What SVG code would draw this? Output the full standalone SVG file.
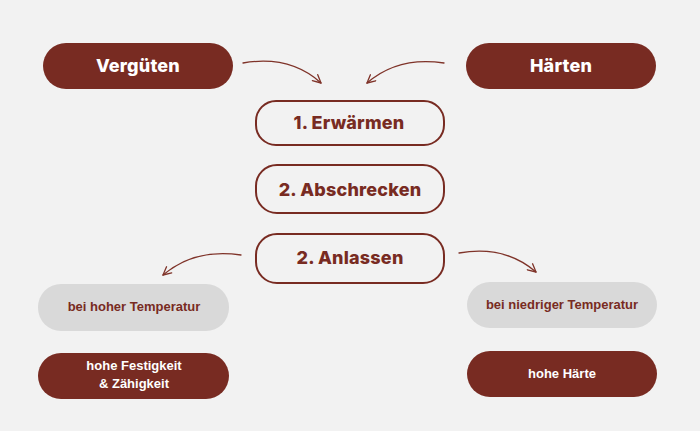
<svg xmlns="http://www.w3.org/2000/svg" width="700" height="431" viewBox="0 0 700 431">
<style>
.bg{fill:#f2f2f2}
.dark{fill:#782b22}
.outline{fill:none;stroke:#782b22;stroke-width:2}
.gray{fill:#d9d9d9}
.title{font-family:Inter,"Open Sans",sans-serif;font-weight:800;font-size:18px;letter-spacing:0.2px;text-anchor:middle}
.w{fill:#ffffff}
.r{fill:#782b22}
.small{font-family:"Liberation Sans",Arial,sans-serif;font-weight:700;font-size:13px;text-anchor:middle}
.conn{fill:none;stroke:#7f3329;stroke-width:1.3;stroke-linecap:round}
</style>
<defs>
<marker id="ah" viewBox="0 0 10 10" refX="9" refY="5" markerWidth="10" markerHeight="10" markerUnits="userSpaceOnUse" orient="auto">
<path d="M1,1 L9,5 L1,9" fill="none" stroke="#7f3329" stroke-width="1.3" stroke-linecap="round" stroke-linejoin="round"/>
</marker>
</defs>
<rect class="bg" x="0" y="0" width="700" height="431"/>
<g id="verguten">
<rect class="dark" x="43" y="43" width="190" height="46" rx="23"/>
<text class="title w" x="138" y="72">Vergüten</text>
</g>
<g id="harten">
<rect class="dark" x="466" y="43" width="190" height="46" rx="23"/>
<text class="title w" x="561" y="72">Härten</text>
</g>
<g id="erwarmen">
<rect class="outline" x="256" y="101" width="188" height="44" rx="20"/>
<text class="title r" x="349" y="129">1. Erwärmen</text>
</g>
<g id="abschrecken">
<rect class="outline" x="256" y="165" width="188" height="48" rx="21"/>
<text class="title r" x="350" y="196">2. Abschrecken</text>
</g>
<g id="anlassen">
<rect class="outline" x="256" y="234" width="188" height="49" rx="21"/>
<text class="title r" x="350" y="264">2. Anlassen</text>
</g>
<g id="hoheTemp">
<rect class="gray" x="38" y="284" width="191" height="47" rx="23"/>
<text class="small r" x="134" y="311">bei hoher Temperatur</text>
</g>
<g id="niedrigeTemp">
<rect class="gray" x="467" y="282" width="190" height="46" rx="23"/>
<text class="small r" x="562" y="309">bei niedriger Temperatur</text>
</g>
<g id="festigkeit">
<rect class="dark" x="38" y="353" width="191" height="46" rx="23"/>
<text class="small w" x="134" y="370">hohe Festigkeit</text>
<text class="small w" x="134" y="388">&amp; Zähigkeit</text>
</g>
<g id="haerte">
<rect class="dark" x="467" y="351" width="190" height="46" rx="23"/>
<text class="small w" x="562" y="378">hohe Härte</text>
</g>
<g id="connectors">
<path class="conn" d="M243,63 Q290,55 321,83" marker-end="url(#ah)"/>
<path class="conn" d="M444,63 Q398,56 367,83" marker-end="url(#ah)"/>
<path class="conn" d="M241,255 Q195,248 163,275" marker-end="url(#ah)"/>
<path class="conn" d="M459,253 Q505,245 536,272" marker-end="url(#ah)"/>
</g>
</svg>
